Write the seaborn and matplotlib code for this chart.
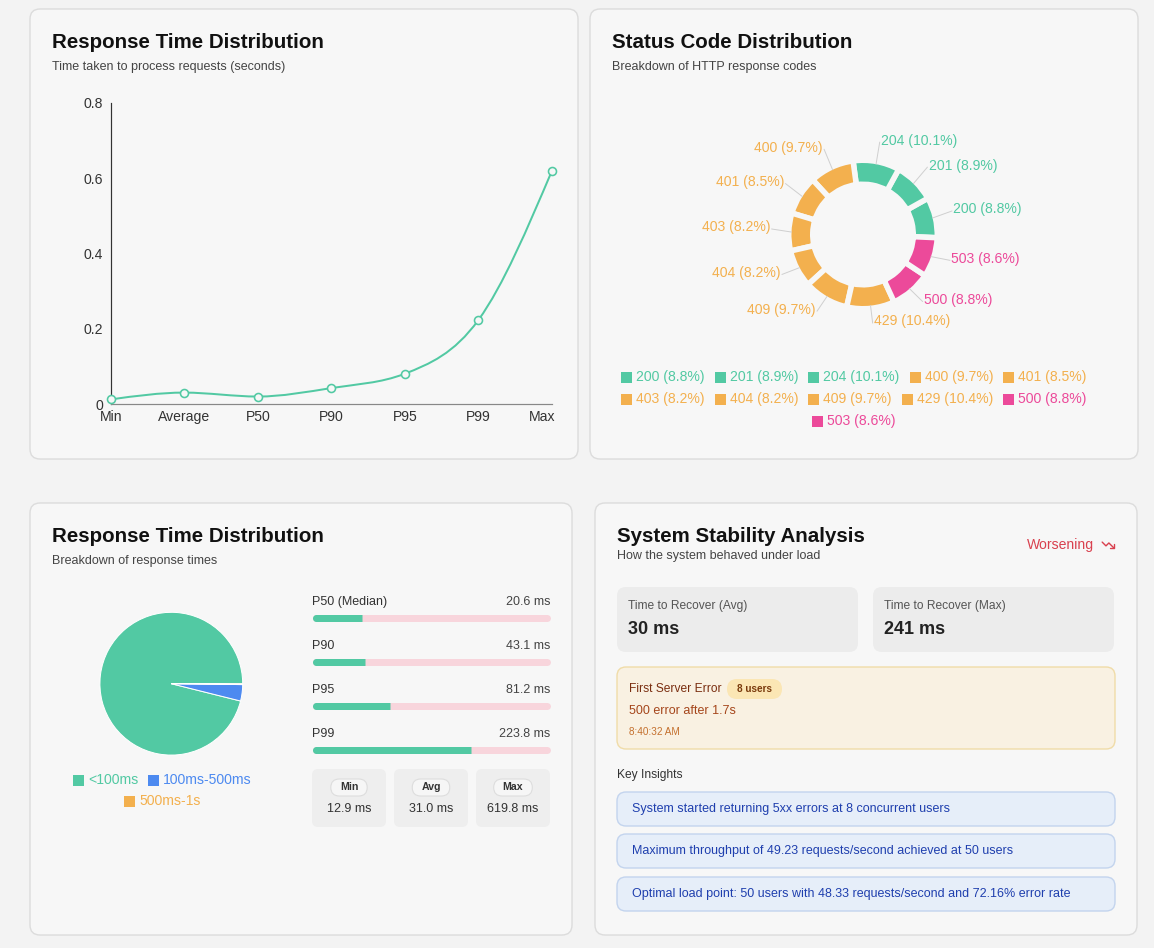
import numpy as np
import pandas as pd
import matplotlib
matplotlib.use("Agg")
import matplotlib.pyplot as plt
import seaborn as sns
from matplotlib.patches import FancyBboxPatch, Rectangle, PathPatch
from matplotlib.path import Path
from matplotlib.lines import Line2D
from matplotlib.transforms import ScaledTranslation

# ---------------- data ----------------
rt_labels = ["Min", "Average", "P50", "P90", "P95", "P99", "Max"]
rt_seconds = [0.0129, 0.0310, 0.0206, 0.0431, 0.0812, 0.2238, 0.6198]
rt_yticks = [0, 0.2, 0.4, 0.6, 0.8]
rt_ytick_labels = ["0", "0.2", "0.4", "0.6", "0.8"]

status_codes = ["200", "201", "204", "400", "401", "403", "404", "409", "429", "500", "503"]
status_pct = [8.8, 8.9, 10.1, 9.7, 8.5, 8.2, 8.2, 9.7, 10.4, 8.8, 8.6]
status_class = ["2xx", "2xx", "2xx", "4xx", "4xx", "4xx", "4xx", "4xx", "4xx", "5xx", "5xx"]

bucket_labels = ["<100ms", "100ms-500ms", "500ms-1s"]
bucket_pct = [96.1, 3.7, 0.2]

pctl_labels = ["P50 (Median)", "P90", "P95", "P99"]
pctl_ms = [20.6, 43.1, 81.2, 223.8]
pctl_fill = [0.203, 0.215, 0.324, 0.673]

stat_labels = ["Min", "Avg", "Max"]
stat_ms = [12.9, 31.0, 619.8]

recover_labels = ["Time to Recover (Avg)", "Time to Recover (Max)"]
recover_ms = [30, 241]
first_error_users = 8
first_error_msg = "500 error after 1.7s"
first_error_time = "8:40:32 AM"
trend_label = "Worsening"
insights = [
    "System started returning 5xx errors at 8 concurrent users",
    "Maximum throughput of 49.23 requests/second achieved at 50 users",
    "Optimal load point: 50 users with 48.33 requests/second and 72.16% error rate",
]

# ---------------- style ----------------
PAGE = "#f3f3f3"
CARD = "#f7f7f7"
CARD_EDGE = "#dcdcdc"
TEAL = "#52c9a3"
ORANGE = "#f3b04e"
PINK = "#ec4a9a"
BLUE = "#4d8af0"
class_colors = {"2xx": TEAL, "4xx": ORANGE, "5xx": PINK}
bucket_colors = [TEAL, BLUE, ORANGE]
TITLE_C = "#111111"
SUB_C = "#444444"

W, H, DPI = 1154, 948, 100
sns.set_theme(style="white")
plt.rcParams["font.family"] = ["Liberation Sans", "DejaVu Sans"]


def pt(px):
    return px * 0.72


fig = plt.figure(figsize=(W / DPI, H / DPI), dpi=DPI)
fig.patch.set_facecolor(PAGE)
bg = fig.add_axes([0, 0, 1, 1])
bg.set_xlim(0, W)
bg.set_ylim(H, 0)
bg.axis("off")
renderer = fig.canvas.get_renderer()


def axes_px(x0, y0, x1, y1):
    a = fig.add_axes([x0 / W, 1 - y1 / H, (x1 - x0) / W, (y1 - y0) / H])
    a.set_facecolor("none")
    return a


def rbox(x0, y0, x1, y1, fc, ec="none", r=10, lw=1.0, z=1):
    bg.add_patch(FancyBboxPatch((x0, y0), x1 - x0, y1 - y0,
                                boxstyle=f"round,pad=0,rounding_size={r}",
                                fc=fc, ec=ec, lw=lw, zorder=z))


def txt(x, y, s, size, color, weight="normal", ha="left", va="center", z=5):
    return bg.text(x, y, s, fontsize=pt(size), color=color, fontweight=weight,
                   ha=ha, va=va, zorder=z)


def text_width(s, size, weight="normal"):
    t = bg.text(0, 0, s, fontsize=pt(size), fontweight=weight)
    w = t.get_window_extent(renderer).width
    t.remove()
    return w


def legend_rows(items, center_x, y0, max_w, size=14, sq=11, row_h=22):
    # recharts-like wrapping legend (icon + text, margin-right 10)
    widths = [15 + text_width(lbl, size) + 10 for lbl, _ in items]
    rows, cur, cw = [], [], 0
    for it, w in zip(items, widths):
        if cur and cw + w > max_w:
            rows.append(cur)
            cur, cw = [], 0
        cur.append((it, w))
        cw += w
    if cur:
        rows.append(cur)
    for r, row in enumerate(rows):
        total = sum(w for _, w in row)
        x = center_x - total / 2
        y = y0 + r * row_h
        for (lbl, col), w in row:
            bg.add_patch(Rectangle((x, y - sq / 2), sq, sq, fc=col, ec="none", zorder=4))
            txt(x + 15, y, lbl, size, col)
            x += w


# ---------------- cards ----------------
rbox(30, 9, 578, 459, CARD, CARD_EDGE)
rbox(590, 9, 1138, 459, CARD, CARD_EDGE)
rbox(30, 503, 572, 935, CARD, CARD_EDGE)
rbox(595, 503, 1137, 935, CARD, CARD_EDGE)

# ================= card 1 : line chart =================
txt(52, 42, "Response Time Distribution", 20.5, TITLE_C, "bold")
txt(52, 67, "Time taken to process requests (seconds)", 12.5, SUB_C)

ax1 = axes_px(110.7, 102.7, 552, 404.3)
x_idx = np.arange(len(rt_labels))


def monotone_path(xs, ys):
    xs = np.asarray(xs, float)
    ys = np.asarray(ys, float)
    n = len(xs)
    h = np.diff(xs)
    s = np.diff(ys) / h
    t = np.zeros(n)
    for i in range(1, n - 1):
        s0, s1, h0, h1 = s[i - 1], s[i], h[i - 1], h[i]
        p = (s0 * h1 + s1 * h0) / (h0 + h1)
        sg = (1 if s0 >= 0 else -1) + (1 if s1 >= 0 else -1)
        t[i] = sg * min(abs(s0), abs(s1), 0.5 * abs(p))
    t[0] = (3 * s[0] - t[1]) / 2
    t[-1] = (3 * s[-1] - t[-2]) / 2
    verts = [(xs[0], ys[0])]
    codes = [Path.MOVETO]
    for i in range(n - 1):
        dx = h[i] / 3
        verts += [(xs[i] + dx, ys[i] + dx * t[i]),
                  (xs[i + 1] - dx, ys[i + 1] - dx * t[i + 1]),
                  (xs[i + 1], ys[i + 1])]
        codes += [Path.CURVE4] * 3
    return Path(verts, codes)


ax1.add_patch(PathPatch(monotone_path(x_idx, rt_seconds), fill=False,
                        ec=TEAL, lw=pt(2), zorder=2, capstyle="round"))
df_rt = pd.DataFrame({"idx": x_idx, "seconds": rt_seconds})
sns.scatterplot(data=df_rt, x="idx", y="seconds", ax=ax1, s=pt(8) ** 2,
                color=CARD, edgecolor=TEAL, linewidth=pt(1.6), zorder=3)
for c in ax1.collections:
    c.set_clip_on(False)
ax1.set_xlim(0, 6)
ax1.set_ylim(0, 0.8)
ax1.set_xlabel("")
ax1.set_ylabel("")
ax1.set_xticks(x_idx)
ax1.set_xticklabels(rt_labels)
ax1.set_yticks(rt_yticks)
ax1.set_yticklabels(rt_ytick_labels)
for side in ["top", "right"]:
    ax1.spines[side].set_visible(False)
ax1.spines["left"].set_color("#333333")
ax1.spines["bottom"].set_color("#888888")
for side in ["left", "bottom"]:
    ax1.spines[side].set_linewidth(pt(1.2))
ax1.tick_params(axis="both", direction="out", length=pt(6), width=pt(1), color="#333333",
                labelsize=pt(14), labelcolor="#333333", pad=pt(1.5))
ax1.tick_params(axis="x", pad=0)
lbls = ax1.get_xticklabels()
lbls[-1].set_ha("right")
lbls[-1].set_transform(lbls[-1].get_transform() + ScaledTranslation(3 / DPI, 0, fig.dpi_scale_trans))
ax1.grid(False)

# ================= card 2 : donut =================
txt(612, 42, "Status Code Distribution", 20.5, TITLE_C, "bold")
txt(612, 67, "Breakdown of HTTP response codes", 12.5, SUB_C)

CX, CY, R = 863, 234.5, 71.5
ax2 = axes_px(CX - R, CY - R, CX + R, CY + R)
status_colors = [class_colors[c] for c in status_class]
gap_px = 5.5
wedges, _ = ax2.pie(status_pct, colors=status_colors, startangle=-2.5, counterclock=True,
                    radius=1 + gap_px / 2 / R,
                    wedgeprops=dict(width=(18.5 + gap_px) / R, edgecolor=CARD, linewidth=pt(gap_px)))
ax2.set_xlim(-1, 1)
ax2.set_ylim(-1, 1)
ax2.axis("off")
r_lab = (R + 20) / R
dy_lab = 4 / R
for w, code, p, col in zip(wedges, status_codes, status_pct, status_colors):
    mid = np.deg2rad((w.theta1 + w.theta2) / 2)
    c, s = np.cos(mid), np.sin(mid)
    ax2.plot([c, r_lab * c], [s, r_lab * s + dy_lab * 0.6], color="#cfcfcf", lw=0.7,
             clip_on=False, zorder=1)
    ax2.text(r_lab * c + (0.02 if c > 0 else -0.02), r_lab * s + dy_lab, f"{code} ({p}%)",
             ha="left" if c > 0 else "right", va="center", color=col,
             fontsize=pt(14), clip_on=False)

legend_rows([(f"{c} ({p}%)", col) for c, p, col in zip(status_codes, status_pct, status_colors)],
            center_x=864 - 5, y0=377, max_w=500)

# ================= card 3 : pie + percentile bars =================
txt(52, 536, "Response Time Distribution", 20.5, TITLE_C, "bold")
txt(52, 561, "Breakdown of response times", 12.5, SUB_C)

PX, PY, PR = 171.3, 683.7, 71.4
ax3 = axes_px(PX - PR, PY - PR, PX + PR, PY + PR)
ax3.pie(bucket_pct, colors=bucket_colors, startangle=0, counterclock=True, radius=1,
        wedgeprops=dict(edgecolor="#ffffff", linewidth=pt(1)))
ax3.set_xlim(-1, 1)
ax3.set_ylim(-1, 1)
ax3.axis("off")
legend_rows(list(zip(bucket_labels, bucket_colors)), center_x=171.5 - 4, y0=780, max_w=205,
            row_h=21)

row_y = [618, 662, 706, 750]
BX0, BX1, BAR_H = 312, 550, 7
axb = axes_px(BX0 + BAR_H / 2, 596, BX1 - BAR_H / 2, 772)
axb.set_xlim(0, 1)
axb.set_ylim(772, 596)
axb.axis("off")
for lbl, ms, f, y in zip(pctl_labels, pctl_ms, pctl_fill, row_y):
    axb.plot([0, 1], [y, y], color="#f8d5dc", lw=pt(BAR_H), solid_capstyle="round", clip_on=False)
    axb.plot([0, f], [y, y], color=TEAL, lw=pt(BAR_H), solid_capstyle="butt", clip_on=False)
    axb.plot([0], [y], marker="o", ms=pt(BAR_H), color=TEAL, mec="none", clip_on=False)
    txt(BX0, y - 16, lbl, 12.5, "#333333")
    txt(BX1, y - 16, f"{ms} ms", 12.5, "#444444", ha="right")

box_x = [312, 394, 476]
for lbl, v, x0 in zip(stat_labels, stat_ms, box_x):
    rbox(x0, 769, x0 + 74, 827, "#eeeeee", r=6)
    cx = x0 + 37
    pw = text_width(lbl, 10.5, "bold") + 18
    rbox(cx - pw / 2, 779, cx + pw / 2, 796, "#f6f6f6", "#dddddd", r=8.5, lw=0.8, z=2)
    txt(cx, 787.5, lbl, 10.5, "#333333", "bold", ha="center")
    txt(cx, 809, f"{v:.1f} ms", 12.5, "#333333", ha="center")

# ================= card 4 : stability =================
txt(617, 536, "System Stability Analysis", 20.5, TITLE_C, "bold")
txt(617, 556, "How the system behaved under load", 12.5, SUB_C)
RED = "#d9414f"
txt(1094, 545, trend_label, 14, RED, ha="right")
sc = 14 / 24
ix, iy = 1101, 538
icon1 = [(22, 17), (13.5, 8.5), (8.5, 13.5), (2, 7)]
icon2 = [(16, 17), (22, 17), (22, 11)]
for poly in (icon1, icon2):
    bg.add_line(Line2D([ix + a * sc for a, _ in poly], [iy + b * sc for _, b in poly],
                       color=RED, lw=pt(1.4), solid_joinstyle="round", solid_capstyle="round"))

for lbl, v, x0 in zip(recover_labels, recover_ms, [617, 873]):
    rbox(x0, 587, x0 + 241, 652, "#ececec", r=9)
    txt(x0 + 11, 606, lbl, 12, "#555555")
    txt(x0 + 11, 630, f"{v} ms", 18, "#222222", "bold")

rbox(617, 667, 1115, 749, "#f9f1e2", "#f0dca8", r=9)
txt(629, 689, "First Server Error", 12, "#7a2e10")
uw = text_width(f"{first_error_users} users", 10, "bold") + 20
rbox(727, 679, 727 + uw, 699, "#fbe6b4", r=10, z=2)
txt(727 + uw / 2, 689, f"{first_error_users} users", 10, "#7a3a0c", "bold", ha="center")
txt(629, 711, first_error_msg, 12.5, "#a5461b")
txt(629, 732, first_error_time, 10, "#c4702e")

txt(617, 775, "Key Insights", 12, "#333333")
for s, y0 in zip(insights, [792, 834, 877]):
    rbox(617, y0, 1115, y0 + 34, "#e6eef9", "#c3d4ee", r=9)
    txt(632, y0 + 17, s, 12.5, "#1f3fae")

fig.savefig("out.png", dpi=DPI, facecolor=PAGE)
